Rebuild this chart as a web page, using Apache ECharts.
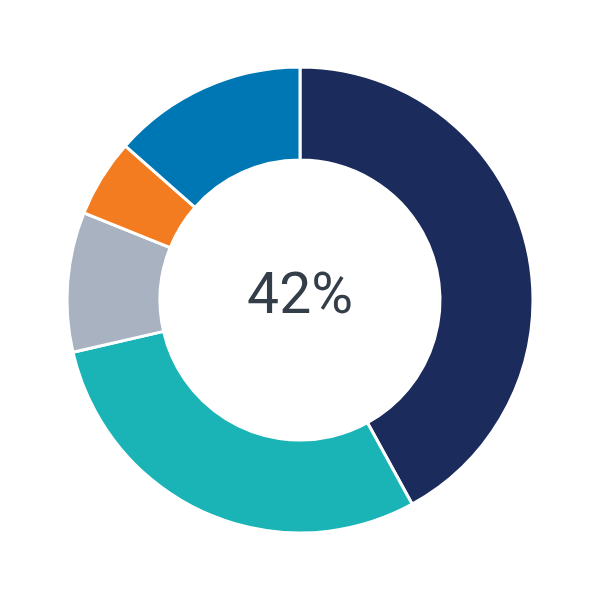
<!DOCTYPE html>
<html><head><meta charset="utf-8">
<script src="https://cdn.jsdelivr.net/npm/echarts@6/dist/echarts.min.js"></script>
<style>html,body{margin:0;padding:0;background:#fff}#c{width:600px;height:600px}</style>
</head><body><div id="c"></div>
<script>
const categories = ['A', 'B', 'C', 'D', 'E'];
const values = [42, 29.4, 9.7, 5.4, 13.5];
const colors = ['#1b2b5b', '#1ab4b6', '#a8b2c0', '#f47c20', '#0077b5'];
const centerLabel = '42%';

const chart = echarts.init(document.getElementById('c'));
chart.setOption({
  animation: false,
  graphic: [{
    type: 'text', left: 'center', top: 270,
    style: { text: centerLabel, font: 'normal 57px Roboto, sans-serif', fill: '#343e48' }
  }],
  series: [{
    type: 'pie',
    center: ['50%', '50%'],
    radius: [140, 233],
    startAngle: 90,
    clockwise: true,
    label: { show: false },
    labelLine: { show: false },
    itemStyle: { borderColor: '#fff', borderWidth: 3 },
    emphasis: { disabled: true },
    data: categories.map((c, i) => ({ name: c, value: values[i], itemStyle: { color: colors[i] } }))
  }]
});
</script></body></html>
